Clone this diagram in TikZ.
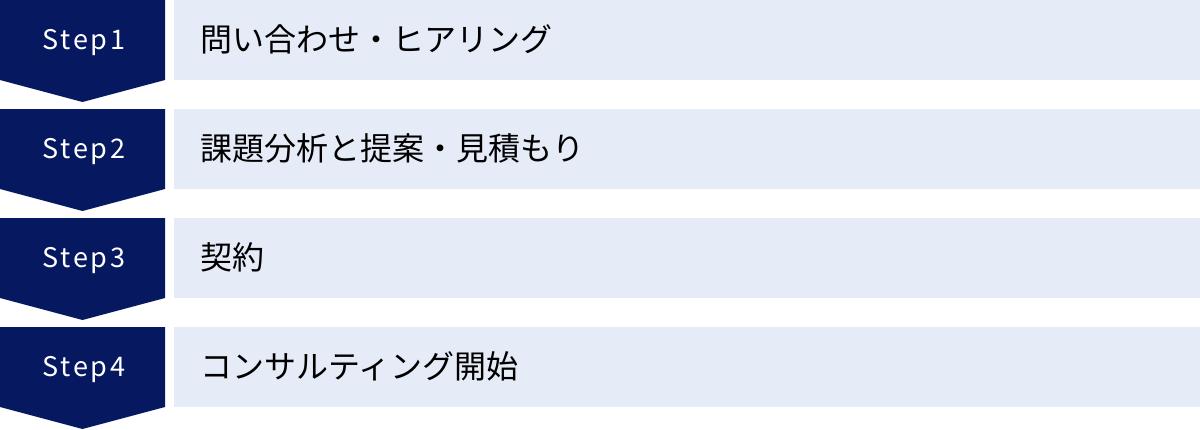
\documentclass[tikz,border=0pt]{standalone}
\usepackage{fontspec}
\newfontfamily\jpfont{Noto Sans CJK JP}
\newfontfamily\stepfont[LetterSpace=10]{Noto Sans CJK JP}
\definecolor{navy}{RGB}{6,24,96}
\definecolor{lav}{RGB}{230,235,248}
\tikzset{
  stepshape/.style={fill=navy, draw=none},
  stepbox/.style={fill=lav, draw=none, inner sep=0pt, minimum width=1026pt, minimum height=80pt, anchor=north west},
  steplabel/.style={text=white, font=\stepfont\fontsize{27}{27}\selectfont, anchor=base, inner sep=0pt},
  boxlabel/.style={text=black, font=\jpfont\fontsize{32}{32}\selectfont, anchor=base west, inner sep=0pt},
}
\begin{document}
\begin{tikzpicture}[x=1pt,y=1pt]
\useasboundingbox (0,0) rectangle (1200,-429);
\foreach \i/\lab/\txt in {1/Step1/問い合わせ・ヒアリング, 2/Step2/課題分析と提案・見積もり, 3/Step3/契約, 4/Step4/コンサルティング開始}{
  \pgfmathsetmacro{\top}{-109*(\i-1)}
  \fill[stepshape] (0,\top) -- (165,\top) -- (165,\top-80) -- (82.5,\top-102) -- (0,\top-80) -- cycle;
  \node[stepbox] (box\i) at (174,\top) {};
  \node[steplabel] (lab\i) at (84,\top-49.3) {\lab};
  \node[boxlabel] (txt\i) at (200,\top-51) {\txt};
}
\end{tikzpicture}
\end{document}
